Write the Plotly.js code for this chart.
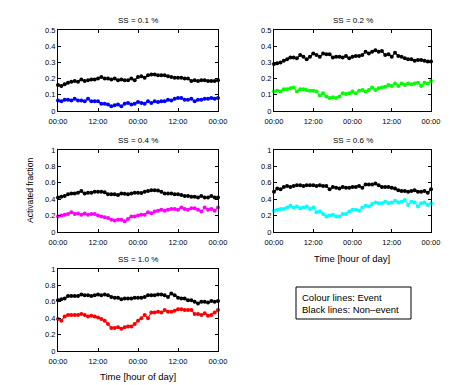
<!DOCTYPE html>
<html>
<head>
<meta charset="utf-8">
<script src="https://cdn.plot.ly/plotly-3.0.1.min.js"></script>
<style>html,body{margin:0;padding:0;background:#fff;}#chart{width:474px;height:385px;}</style>
</head>
<body>
<div id="chart"></div>
<script>
// Hours since start (two days, hourly samples)
const hours = Array.from({length: 49}, (_, i) => i);
const tickVals = [0, 12, 24, 36, 48];
const tickLabels = ["00:00", "12:00", "00:00", "12:00", "00:00"];

const titles = ["SS = 0.1 %", "SS = 0.2 %", "SS = 0.4 %", "SS = 0.6 %", "SS = 1.0 %"];
const eventColours = ["#0000ff", "#00ff00", "#ff00ff", "#00ffff", "#ff0000"];

const nonEvent01 = [0.16,0.155,0.165,0.175,0.18,0.185,0.18,0.195,0.185,0.19,0.195,0.195,
 0.2,0.21,0.2,0.2,0.195,0.2,0.19,0.195,0.19,0.19,0.2,0.19,
 0.21,0.215,0.205,0.22,0.225,0.225,0.22,0.22,0.22,0.215,0.21,0.205,
 0.205,0.205,0.2,0.2,0.185,0.19,0.185,0.19,0.19,0.185,0.185,0.185,
 0.19];
const event01 = [0.065,0.06,0.07,0.07,0.065,0.075,0.065,0.065,0.06,0.075,0.06,0.06,
 0.06,0.045,0.045,0.04,0.03,0.035,0.04,0.03,0.045,0.05,0.04,0.045,
 0.055,0.05,0.045,0.06,0.05,0.06,0.055,0.06,0.06,0.07,0.065,0.075,
 0.08,0.08,0.07,0.07,0.075,0.06,0.07,0.07,0.075,0.075,0.08,0.075,
 0.08];

const nonEvent02 = [0.29,0.295,0.3,0.31,0.32,0.33,0.33,0.325,0.345,0.335,0.32,0.335,
 0.355,0.345,0.335,0.355,0.35,0.35,0.33,0.335,0.335,0.33,0.34,0.325,
 0.335,0.34,0.34,0.345,0.365,0.355,0.365,0.375,0.365,0.37,0.345,0.35,
 0.335,0.36,0.34,0.335,0.325,0.32,0.32,0.31,0.315,0.315,0.31,0.305,
 0.305];
const event02 = [0.12,0.125,0.12,0.135,0.135,0.14,0.145,0.12,0.135,0.135,0.13,0.125,
 0.125,0.12,0.095,0.11,0.09,0.08,0.085,0.08,0.09,0.11,0.105,0.11,
 0.12,0.11,0.125,0.13,0.12,0.13,0.145,0.13,0.14,0.145,0.15,0.16,
 0.155,0.17,0.155,0.17,0.16,0.17,0.165,0.17,0.175,0.155,0.175,0.17,
 0.185];

const nonEvent04 = [0.42,0.43,0.44,0.46,0.47,0.47,0.48,0.5,0.47,0.48,0.48,0.49,
 0.49,0.49,0.485,0.46,0.46,0.46,0.45,0.47,0.465,0.46,0.47,0.48,
 0.48,0.475,0.49,0.5,0.51,0.51,0.505,0.49,0.47,0.47,0.47,0.46,
 0.46,0.45,0.44,0.44,0.43,0.43,0.42,0.44,0.42,0.42,0.44,0.42,
 0.42];
const event04 = [0.19,0.2,0.21,0.22,0.24,0.22,0.225,0.21,0.225,0.21,0.22,0.22,
 0.2,0.19,0.18,0.17,0.15,0.14,0.15,0.15,0.13,0.16,0.19,0.19,
 0.2,0.21,0.21,0.24,0.23,0.25,0.26,0.27,0.26,0.27,0.28,0.28,
 0.27,0.3,0.28,0.27,0.29,0.29,0.27,0.25,0.3,0.27,0.28,0.26,
 0.3];

const nonEvent06 = [0.49,0.53,0.52,0.55,0.56,0.55,0.56,0.57,0.57,0.56,0.57,0.57,
 0.57,0.56,0.57,0.56,0.56,0.52,0.55,0.54,0.53,0.55,0.54,0.54,
 0.55,0.55,0.56,0.54,0.58,0.58,0.58,0.59,0.57,0.55,0.55,0.55,
 0.54,0.53,0.51,0.5,0.5,0.49,0.5,0.51,0.49,0.49,0.5,0.48,
 0.52];
const event06 = [0.26,0.27,0.28,0.28,0.3,0.32,0.3,0.31,0.29,0.3,0.31,0.28,
 0.3,0.24,0.25,0.22,0.19,0.2,0.21,0.19,0.19,0.22,0.22,0.25,
 0.27,0.27,0.26,0.3,0.32,0.31,0.34,0.36,0.35,0.35,0.37,0.35,
 0.36,0.38,0.36,0.37,0.39,0.33,0.37,0.36,0.31,0.35,0.36,0.33,
 0.35];

const nonEvent10 = [0.62,0.63,0.64,0.67,0.67,0.67,0.67,0.69,0.68,0.68,0.67,0.68,
 0.69,0.68,0.69,0.68,0.66,0.65,0.65,0.63,0.64,0.64,0.64,0.65,
 0.65,0.65,0.66,0.68,0.68,0.68,0.69,0.69,0.68,0.66,0.7,0.68,
 0.65,0.64,0.64,0.62,0.62,0.6,0.58,0.6,0.6,0.59,0.61,0.6,
 0.61];
const event10 = [0.39,0.37,0.42,0.44,0.44,0.44,0.44,0.45,0.44,0.42,0.43,0.42,
 0.41,0.39,0.37,0.33,0.28,0.28,0.29,0.27,0.29,0.3,0.3,0.33,
 0.37,0.4,0.44,0.4,0.47,0.47,0.48,0.47,0.5,0.48,0.48,0.49,
 0.51,0.51,0.5,0.5,0.5,0.45,0.45,0.44,0.46,0.43,0.44,0.47,
 0.5];

const yTicksSmall = [0, 0.1, 0.2, 0.3, 0.4, 0.5];
const yTicksLarge = [0, 0.2, 0.4, 0.6, 0.8, 1];

const nonEvents = [nonEvent01, nonEvent02, nonEvent04, nonEvent06, nonEvent10];
const events = [event01, event02, event04, event06, event10];
const yMax = [0.5, 0.5, 1, 1, 1];

const W = 474, H = 385;
// panel boxes in pixels [left, right, top, bottom]
const boxes = [[58,218,30,111],[274,431,30,111],[58,218,150,232],[274,431,150,232],[58,218,269,351]];

const FONT = "Liberation Sans, Arial, sans-serif";
const traces = [];
const layout = {
  width: W, height: H,
  margin: {l:0, r:0, t:0, b:0},
  paper_bgcolor: "#fff", plot_bgcolor: "#fff",
  showlegend: false,
  font: {family: FONT, color: "#000", size: 8},
  annotations: [], shapes: []
};

for (let i = 0; i < 5; i++) {
  const sfx = i === 0 ? "" : String(i + 1);
  const b = boxes[i];
  const mk = (y, c) => ({
    x: hours, y: y, type: "scatter", mode: "lines+markers",
    xaxis: "x" + sfx, yaxis: "y" + sfx, cliponaxis: false,
    line: {color: c, width: 1.1}, marker: {color: c, size: 4, symbol: "circle"}
  });
  traces.push(mk(nonEvents[i], "#000000"));
  traces.push(mk(events[i], eventColours[i]));
  const tv = yMax[i] === 0.5 ? yTicksSmall : yTicksLarge;
  layout["xaxis" + sfx] = {
    domain: [b[0]/W, b[1]/W], range: [0, 48], anchor: "y" + sfx,
    tickvals: tickVals, ticktext: tickLabels, ticks: "inside", ticklen: 3,
    ticklabelstandoff: 3,
    showline: true, mirror: "ticks", linecolor: "#000", linewidth: 1, tickcolor: "#000",
    showgrid: false, zeroline: false, tickfont: {size: 7.5, family: FONT}
  };
  layout["yaxis" + sfx] = {
    domain: [1 - b[3]/H, 1 - b[2]/H], range: [0, yMax[i]], anchor: "x" + sfx,
    tickvals: tv, ticks: "inside", ticklen: 3,
    showline: true, mirror: "ticks", linecolor: "#000", linewidth: 1, tickcolor: "#000",
    showgrid: false, zeroline: false, tickfont: {size: 7.5, family: FONT}
  };
  layout.annotations.push({
    text: titles[i], xref: "paper", yref: "paper",
    x: (b[0] + b[1]) / 2 / W, y: 1 - (b[2] - 3) / H, yanchor: "bottom", xanchor: "center",
    showarrow: false, font: {size: 8, family: FONT}
  });
}

layout.annotations.push({
  text: "Time [hour of day]", xref: "paper", yref: "paper",
  x: 352/W, y: 1 - 258/H, xanchor: "center", yanchor: "middle",
  showarrow: false, font: {size: 9.5, family: FONT}
});
layout.annotations.push({
  text: "Time [hour of day]", xref: "paper", yref: "paper",
  x: 138/W, y: 1 - 376/H, xanchor: "center", yanchor: "middle",
  showarrow: false, font: {size: 9.5, family: FONT}
});
layout.annotations.push({
  text: "Activated fraction", xref: "paper", yref: "paper",
  x: 30/W, y: 1 - 191/H, xanchor: "center", yanchor: "middle", textangle: -90,
  showarrow: false, font: {size: 8.5, family: FONT}
});
layout.shapes.push({
  type: "rect", xref: "paper", yref: "paper",
  x0: 296/W, x1: 411/W, y0: 1 - 319/H, y1: 1 - 287/H,
  line: {color: "#000", width: 1}
});
layout.annotations.push({
  text: "Colour lines: Event<br>Black lines: Non\u2013event", xref: "paper", yref: "paper",
  x: 300/W, y: 1 - 303/H, xanchor: "left", yanchor: "middle", align: "left",
  showarrow: false, font: {size: 9.5, family: FONT}
});

Plotly.newPlot("chart", traces, layout, {staticPlot: true, displayModeBar: false});
</script>
</body>
</html>
